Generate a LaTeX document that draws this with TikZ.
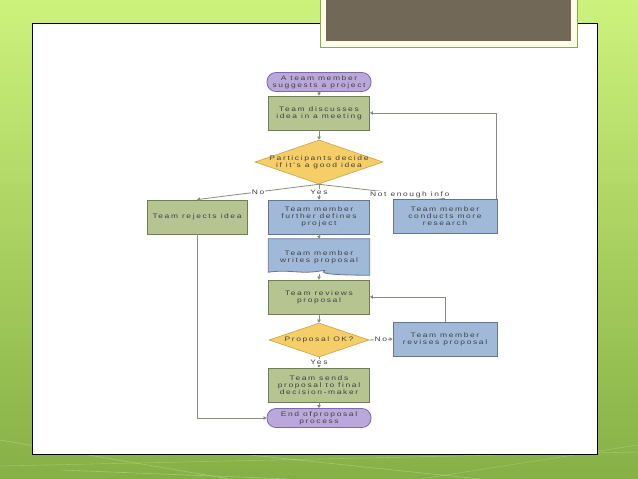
\documentclass[tikz,border=0pt]{standalone}
\usepackage{fontspec}
\usetikzlibrary{shapes.geometric,arrows.meta}
\newfontfamily\flowfont[FakeStretch=1.3,LetterSpace=25]{Liberation Sans}
\definecolor{bgtop}{HTML}{CDF27C}
\definecolor{bgmid}{HTML}{A9D45E}
\definecolor{bgbot}{HTML}{86B046}
\definecolor{taupe}{HTML}{726858}
\definecolor{boxgreen}{HTML}{B5C491}
\definecolor{linegreen}{HTML}{6E7D55}
\definecolor{boxblue}{HTML}{A0B9D9}
\definecolor{lineblue}{HTML}{66758C}
\definecolor{boxyellow}{HTML}{F6CE68}
\definecolor{lineyellow}{HTML}{C9A24A}
\definecolor{boxpurple}{HTML}{BBA8DA}
\definecolor{linepurple}{HTML}{7F68A6}
\definecolor{connector}{HTML}{8A8A80}
\begin{document}
\begin{tikzpicture}[
  x=1pt, y=-1pt,
  txt/.style={font=\flowfont\fontsize{6.5}{7}\selectfont, text=black!75, align=center},
  proc/.style={txt, draw=linegreen, fill=boxgreen, line width=0.8pt, minimum width=101pt, minimum height=34pt, inner sep=1pt},
  task/.style={proc, draw=lineblue, fill=boxblue},
  decision/.style={diamond, draw=lineyellow, fill=boxyellow, line width=0.6pt, inner sep=0pt, aspect=2.9},
  terminal/.style={txt, draw=linepurple, fill=boxpurple, line width=0.8pt, rounded corners=9pt, minimum width=104pt, minimum height=19pt, inner sep=1pt},
  flow/.style={draw=connector, line width=0.8pt, -{Triangle[length=3pt,width=3.5pt]}},
  branch/.style={txt, fill=white, inner sep=0.5pt}
]

% ---- Background slide ----
\useasboundingbox (0,0) rectangle (638,479);
\shade[top color=bgtop, middle color=bgmid, bottom color=bgbot] (0,0) rectangle (638,479);
\foreach \a/\b in {0/440, 60/470, 250/455, 520/479}
  \draw[white, opacity=0.25, line width=0.6pt] (\a,\b) -- (\a+230,479);
\draw[white, opacity=0.2, line width=0.6pt] (0,466) -- (638,452);
\draw[white, opacity=0.2, line width=0.6pt] (420,479) -- (638,445);

% ---- White panel ----
\draw[black, line width=0.9pt, fill=white] (32,23) rectangle (597,454);

% ---- Title box ----
\draw[fill=white!92!yellow, draw=bgbot, line width=0.8pt] (320,-2) rectangle (577,47);
\fill[taupe] (326,-2) rectangle (571,41);

% ---- Main column ----
\node[terminal] (start)   at (319,82)  {A team member\\suggests a project};
\node[proc]     (discuss) at (319,113) {Team discusses\\idea in a meeting};
\node[decision, minimum width=128pt, minimum height=44pt] (decide) at (319,162) {};
\node[txt] at (decide) {Participants decide\\if it's a good idea};
\node[task]     (define)  at (319,217) {Team member\\further defines\\project};
\node[txt, minimum width=101pt, minimum height=32pt] (writes) at (319,255) {};
\node[proc]     (reviews) at (319,297) {Team reviews\\proposal};
\node[decision, minimum width=100pt, minimum height=34pt] (ok) at (319,340) {};
\node[txt] at (ok) {Proposal OK?};
\node[proc]     (sends)   at (319,385) {Team sends\\proposal to final\\decision-maker};
\node[terminal] (finish)  at (319,418) {End ofproposal\\process};

% Document shape round "writes"
\filldraw[draw=lineblue, fill=boxblue, line width=0.8pt]
  (writes.north west) -- (writes.north east) -- ([yshift=-4pt]writes.south east)
  .. controls ([xshift=-25pt,yshift=-4pt]writes.south) and ([xshift=20pt,yshift=3pt]writes.south) ..
  (writes.south)
  .. controls ([xshift=-20pt,yshift=-3pt]writes.south) and ([xshift=-30pt,yshift=2pt]writes.south) ..
  ([yshift=-1pt]writes.south west) -- cycle;
\node[txt] at ([yshift=-2pt]writes.center) {Team member\\writes proposal};

% ---- Side boxes ----
\node[proc, minimum width=100pt] (reject)   at (197,217) {Team rejects idea};
\node[task, minimum width=104pt] (research) at (445,216) {Team member\\conducts more\\research};
\node[task, minimum width=104pt] (revises)  at (445,339) {Team member\\revises proposal};

% ---- Connectors ----
\draw[flow] (start) -- (discuss);
\draw[flow] (discuss) -- (decide);
\draw[flow] (decide.south) -- node[branch, pos=0.5] {Yes} (define.north);
\draw[flow] (decide.south) -- node[branch, pos=0.5] {No} (reject.north);
\draw[flow] (decide.south) -- node[branch, pos=0.72] {Not enough info} (research.north);
\draw[flow] ([xshift=-1.5pt]research.north east) |- (discuss.east);
\draw[flow] (define) -- (writes);
\draw[flow] ([yshift=-3pt]writes.south) -- (reviews);
\draw[flow] (reviews) -- (ok);
\draw[flow] (ok.east) -- node[branch] {No} (revises.west);
\draw[flow] (revises.north) |- (reviews.east);
\draw[flow] (ok.south) -- node[branch, pos=0.45] {Yes} (sends.north);
\draw[flow] (sends) -- (finish);
\draw[flow] (reject.south) |- (finish.west);
\end{tikzpicture}
\end{document}
